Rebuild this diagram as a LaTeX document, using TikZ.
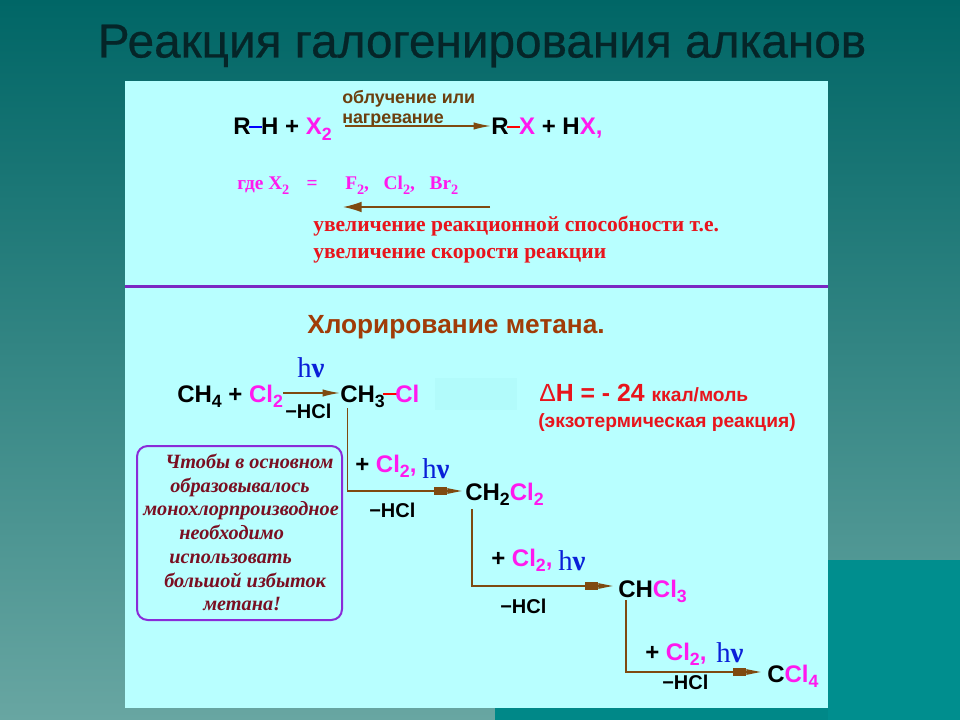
\documentclass[tikz,border=0pt]{standalone}
\usepackage{fontspec}
\setmainfont{Liberation Sans}
\newfontfamily\timesfont{Liberation Serif}
\newfontfamily\titlefont[FakeBold=0.5]{Liberation Sans}
\usetikzlibrary{arrows.meta,positioning,calc}
\definecolor{panelcyan}{HTML}{B8FFFF}
\definecolor{panelpatch}{HTML}{B2FBFB}
\definecolor{bgtop}{HTML}{006666}
\definecolor{bgbottom}{HTML}{68A6A2}
\definecolor{cornerteal}{HTML}{008E8E}
\definecolor{stripteal}{HTML}{008888}
\definecolor{titledark}{HTML}{052528}
\definecolor{methanebrown}{HTML}{A03C08}
\definecolor{halcolor}{HTML}{FF19EE}
\definecolor{arrowbrown}{HTML}{7F4A10}
\definecolor{reactred}{HTML}{E8141C}
\definecolor{hvblue}{HTML}{0A20D8}
\definecolor{boxpurple}{HTML}{8A2BD8}
\definecolor{boxred}{HTML}{7A0F22}
\newcommand{\hal}[1]{\textcolor{halcolor}{#1}}
\newcommand{\idx}[1]{\raisebox{-.22em}{\fontsize{\dimexpr.74em\relax}{1em}\selectfont #1}}
\newcommand{\bond}[1]{\kern-1pt\textcolor{#1}{\rule[0.3em]{0.55em}{0.09em}}\kern-1pt}
\newcommand{\hvtext}{{\timesfont\textcolor{hvblue}{h\textbf{ν}}}}
\tikzset{
  chem/.style={anchor=base west,inner sep=0pt,font=\bfseries\fontsize{18}{20}\selectfont},
  hcltext/.style={anchor=base west,inner sep=0pt,font=\bfseries\fontsize{15}{17}\selectfont},
  hvnode/.style={anchor=base west,inner sep=0pt,font=\fontsize{21.5}{23}\selectfont},
  redserif/.style={anchor=base west,inner sep=0pt,text=reactred,font=\timesfont\bfseries\fontsize{16.15}{18}\selectfont},
  halserif/.style={anchor=base west,inner sep=0pt,text=halcolor,font=\timesfont\bfseries\fontsize{14.5}{16}\selectfont},
  browntext/.style={anchor=base west,inner sep=0pt,text=arrowbrown!85!black,font=\bfseries\fontsize{13.4}{15}\selectfont},
  boxline/.style={anchor=base west,inner sep=0pt,text=boxred,font=\timesfont\bfseries\itshape\fontsize{15.2}{17}\selectfont},
  smallarrow/.style={draw=arrowbrown,line width=1.1pt,-{Latex[length=13pt,width=5.5pt]}},
  elbowarrow/.style={draw=arrowbrown,line width=1.1pt,-{Rectangle[length=10pt,width=6pt,sep=0pt]Triangle[length=11pt,width=4pt]}}
}
\begin{document}
\begin{tikzpicture}[x=0.75pt,y=-0.75pt]
    \useasboundingbox (0,0) rectangle (960,720);
    % background
    \shade[top color=bgtop,bottom color=bgbottom] (0,0) rectangle (960,720);
    \fill[cornerteal] (828,560) rectangle (960,720);
    \fill[stripteal] (495,708) rectangle (828,720);
    \fill[panelcyan] (125,81) rectangle (828,708);
    \fill[panelpatch] (435,378) rectangle (517,410);
    \fill[boxpurple!90!black] (125,285.5) rectangle (828,288.5);

    \node[anchor=base,inner sep=0pt,text=titledark,font=\titlefont\fontsize{35.8}{38}\selectfont] (title) at (482,57.5) {Реакция галогенирования алканов};

    % general reaction
    \node[chem] (rh) at (233,135) {R\bond{blue}H + \hal{X\idx{2}}};
    \node[chem] (rx) at (491,135) {R\bond{red}\hal{X} + H\hal{X,}};
    \node[browntext] (irr) at (342,103.5) {облучение или};
    \node[browntext] (heat) at (342,123.5) {нагревание};
    \coordinate (rharrow) at (345,126);
    \draw[smallarrow] (rharrow) -- (rx.west |- rharrow);

    \node[halserif] (halo) at (237,190) {где X\idx{2}\hspace{13pt}=};
    \node[halserif] (halolist) at (345,190) {F\idx{2},\hspace{11pt}Cl\idx{2},\hspace{11pt}Br\idx{2}};
    \coordinate (revstart) at (490,207);
    \coordinate (revend) at (343,207);
    \draw[draw=arrowbrown,line width=1.1pt,-{Latex[length=14pt,width=8pt]}] (revstart) -- (revend);
    \node[redserif] (rate1) at (313,232) {увеличение реакционной способности т.е.};
    \node[redserif] (rate2) at (313,259) {увеличение скорости реакции};

    % methane
    \node[anchor=base west,inner sep=0pt,text=methanebrown,font=\bfseries\fontsize{19.7}{22}\selectfont] (methane) at (307,333) {Хлорирование метана.};
    \node[chem] (ch4) at (177,402) {CH\idx{4} + \hal{Cl\idx{2}}};
    \node[chem] (ch3cl) at (340,402) {CH\idx{3}\bond{red}\hal{Cl}};
    \draw[smallarrow] (ch4.east |- 0,393) -- (ch3cl.west |- 0,393);
    \node[hvnode] (hv1) at (297,377) {\hvtext};
    \node[hcltext] (hcl1) at (285,418) {−HCl};

    \node[anchor=base west,inner sep=0pt,text=reactred,font=\bfseries\fontsize{18.6}{20}\selectfont] (dh) at (539,401) {{\mdseries Δ}H = - 24 {\fontsize{14.4}{16}\selectfont ккал/моль}};
    \node[anchor=base west,inner sep=0pt,text=reactred,font=\bfseries\fontsize{14.4}{16}\selectfont] (exo) at (538,427) {(экзотермическая реакция)};

    % note box
    \draw[boxpurple,line width=1.5pt,rounded corners=8pt] (137,446) rectangle (342,620);
    \node[boxline] (n1) at (165,468) {Чтобы в основном};
    \node[boxline] (n2) at (170,492) {образовывалось};
    \node[boxline] (n3) at (143,515) {монохлорпроизводное};
    \node[boxline] (n4) at (179,539) {необходимо};
    \node[boxline] (n5) at (169,563) {использовать};
    \node[boxline] (n6) at (164,587) {большой избыток};
    \node[boxline] (n7) at (203,610) {метана!};

    % chain of steps
    \node[chem] (ch2cl2) at (465,500) {CH\idx{2}\hal{Cl\idx{2}}};
    \node[chem] (chcl3) at (618,597) {CH\hal{Cl\idx{3}}};
    \node[chem] (ccl4) at (767,682) {C\hal{Cl\idx{4}}};

    \coordinate (elbow1) at (347.5,408);
    \coordinate (elbow2) at (472,509);
    \coordinate (elbow3) at (626,600);
    \draw[elbowarrow] (elbow1) |- ($(ch2cl2.west |- 0,491)+(-3,0)$);
    \draw[elbowarrow] (elbow2) |- ($(chcl3.west |- 0,586)+(-5,0)$);
    \draw[elbowarrow] (elbow3) |- ($(ccl4.west |- 0,672)+(-6,0)$);

    \node[chem] (add1) at (355,472) {+ \hal{Cl\idx{2},}};
    \node[hvnode] (hv2) at (422,478) {\hvtext};
    \node[hcltext] (hcl2) at (369,517) {−HCl};
    \node[chem] (add2) at (491,566) {+ \hal{Cl\idx{2},}};
    \node[hvnode] (hv3) at (558,570) {\hvtext};
    \node[hcltext] (hcl3) at (500,613) {−HCl};
    \node[chem] (add3) at (645,660) {+ \hal{Cl\idx{2},}};
    \node[hvnode] (hv4) at (716,662) {\hvtext};
    \node[hcltext] (hcl4) at (662,689) {−HCl};
\end{tikzpicture}
\end{document}
